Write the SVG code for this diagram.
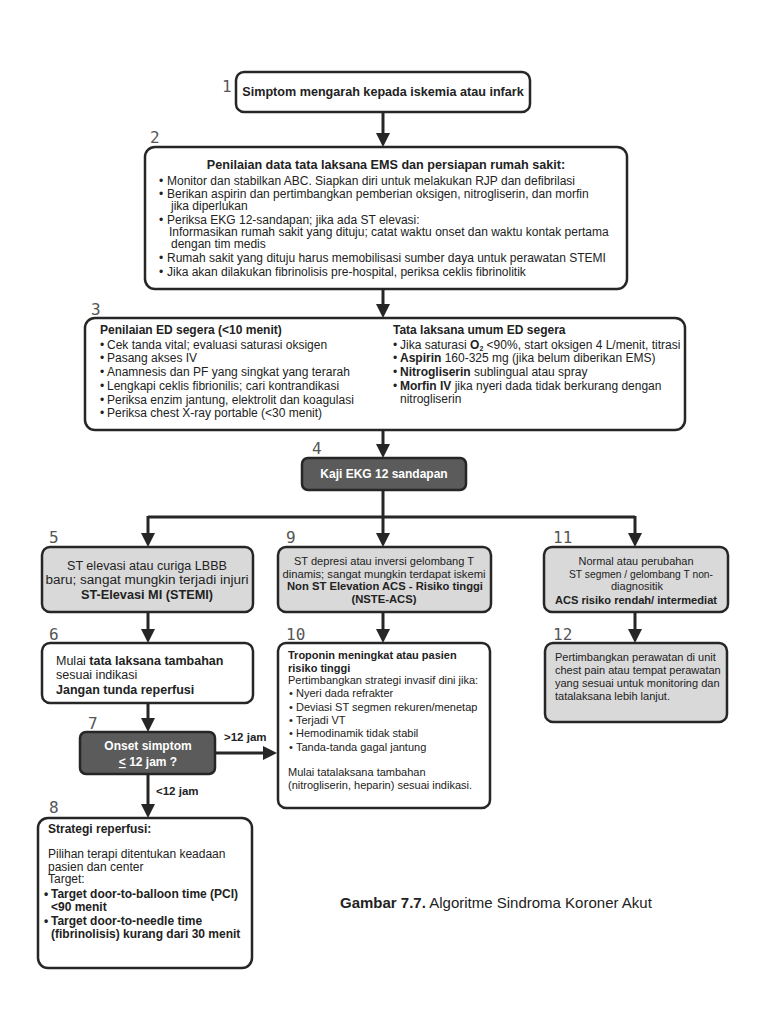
<svg xmlns="http://www.w3.org/2000/svg" width="768" height="1024" viewBox="0 0 768 1024">
<defs>
<style>
.box{fill:#fff;stroke:#262626;stroke-width:2.5}
.gray{fill:#d9d9d9;stroke:#262626;stroke-width:2.5}
.dark{fill:#5b5b5b;stroke:#262626;stroke-width:2.5}
.conn{stroke:#262626;stroke-width:3;fill:none}
.num{font-family:"DejaVu Sans Mono","Liberation Mono",monospace;font-size:16px;fill:#555;font-weight:300}
text{font-family:"Liberation Sans",Arial,sans-serif;fill:#222}
.t12{font-size:12px}
.t11{font-size:11px}
.b{font-weight:bold}
.w{fill:#fff;font-weight:bold}
.c{text-anchor:middle}
</style>
<marker id="ah" markerUnits="userSpaceOnUse" markerWidth="16" markerHeight="16" refX="4" refY="7" orient="auto">
<path d="M0,0 L14,7 L0,14 z" fill="#262626"/>
</marker>
</defs>
<rect width="768" height="1024" fill="#fff"/>

<g id="connectors">
<path class="conn" d="M383,112 V137" marker-end="url(#ah)"/>
<path class="conn" d="M383,289 V308" marker-end="url(#ah)"/>
<path class="conn" d="M383,318 V430"/>
<path class="conn" d="M383,430 V448" marker-end="url(#ah)"/>
<path class="conn" d="M383,490 V537" marker-end="url(#ah)"/>
<path class="conn" d="M148,517 H635"/>
<path class="conn" d="M148,516 V537" marker-end="url(#ah)"/>
<path class="conn" d="M635,516 V537" marker-end="url(#ah)"/>
<path class="conn" d="M148,612 V633" marker-end="url(#ah)"/>
<path class="conn" d="M383,612 V633" marker-end="url(#ah)"/>
<path class="conn" d="M635,612 V633" marker-end="url(#ah)"/>
<path class="conn" d="M148,703 V722" marker-end="url(#ah)"/>
<path class="conn" d="M215,753 H267" marker-end="url(#ah)"/>
<path class="conn" d="M148,774 V808" marker-end="url(#ah)"/>
<text class="b" x="224" y="741" font-size="11.5">&gt;12 jam</text>
<text class="b" x="156" y="795" font-size="11.5">&lt;12 jam</text>
</g>

<g id="n1">
<text class="num" x="222" y="92">1</text>
<rect class="box" x="236" y="72" width="294" height="40" rx="8"/>
<text class="b c" x="383" y="96" font-size="12.6">Simptom mengarah kepada iskemia atau infark</text>
</g>

<g id="n2">
<text class="num" x="150" y="143">2</text>
<rect class="box" x="145" y="147" width="482" height="142" rx="10"/>
<text class="b c" x="386" y="169" font-size="12.6">Penilaian data tata laksana EMS dan persiapan rumah sakit:</text>
<text class="t12"><tspan x="159" y="185">•</tspan><tspan x="167" y="185">Monitor dan stabilkan ABC. Siapkan diri untuk melakukan RJP dan defibrilasi</tspan></text>
<text class="t12"><tspan x="159" y="198">•</tspan><tspan x="167" y="198">Berikan aspirin dan pertimbangkan pemberian oksigen, nitrogliserin, dan morfin</tspan><tspan x="171" y="210">jika diperlukan</tspan></text>
<text class="t12"><tspan x="159" y="224">•</tspan><tspan x="167" y="224">Periksa EKG 12-sandapan; jika ada ST elevasi:</tspan><tspan x="169" y="236">Informasikan rumah sakit yang dituju; catat waktu onset dan waktu kontak pertama</tspan><tspan x="171" y="248">dengan tim medis</tspan></text>
<text class="t12"><tspan x="159" y="262">•</tspan><tspan x="167" y="262">Rumah sakit yang dituju harus memobilisasi sumber daya untuk perawatan STEMI</tspan></text>
<text class="t12"><tspan x="159" y="276">•</tspan><tspan x="167" y="276">Jika akan dilakukan fibrinolisis pre-hospital, periksa ceklis fibrinolitik</tspan></text>
</g>

<g id="n3">
<text class="num" x="91" y="315">3</text>
<rect class="box" x="85" y="318" width="600" height="112" rx="10"/>
<text class="t12 b" x="100" y="334">Penilaian ED segera (&lt;10 menit)</text>
<text class="t12"><tspan x="100" y="349">•</tspan><tspan x="107" y="349">Cek tanda vital; evaluasi saturasi oksigen</tspan></text>
<text class="t12"><tspan x="100" y="362">•</tspan><tspan x="107" y="362">Pasang akses IV</tspan></text>
<text class="t12"><tspan x="100" y="376">•</tspan><tspan x="107" y="376">Anamnesis dan PF yang singkat yang terarah</tspan></text>
<text class="t12"><tspan x="100" y="390">•</tspan><tspan x="107" y="390">Lengkapi ceklis fibrionilis; cari kontrandikasi</tspan></text>
<text class="t12"><tspan x="100" y="404">•</tspan><tspan x="107" y="404">Periksa enzim jantung, elektrolit dan koagulasi</tspan></text>
<text class="t12"><tspan x="100" y="417">•</tspan><tspan x="107" y="417">Periksa chest X-ray portable (&lt;30 menit)</tspan></text>
<text class="t12 b" x="393" y="334">Tata laksana umum ED segera</text>
<text class="t12"><tspan x="393" y="349">•</tspan><tspan x="400" y="349">Jika saturasi </tspan><tspan class="b">O</tspan><tspan font-size="7" class="b" dy="2">2</tspan><tspan dy="-2"> &lt;90%, start oksigen 4 L/menit, titrasi</tspan></text>
<text class="t12"><tspan x="393" y="362">•</tspan><tspan x="400" y="362" class="b">Aspirin</tspan><tspan> 160-325 mg (jika belum diberikan EMS)</tspan></text>
<text class="t12"><tspan x="393" y="376">•</tspan><tspan x="400" y="376" class="b">Nitrogliserin</tspan><tspan> sublingual atau spray</tspan></text>
<text class="t12"><tspan x="393" y="390">•</tspan><tspan x="400" y="390" class="b">Morfin IV</tspan><tspan> jika nyeri dada tidak berkurang dengan</tspan><tspan x="400" y="403">nitrogliserin</tspan></text>
</g>

<g id="n4">
<text class="num" x="312" y="454">4</text>
<rect class="dark" x="302" y="458" width="164" height="32" rx="6"/>
<text class="w c" x="384" y="478" font-size="12">Kaji EKG 12 sandapan</text>
</g>

<g id="n5">
<text class="num" x="49" y="543">5</text>
<rect class="gray" x="42" y="547" width="211" height="65" rx="8"/>
<text class="c" x="147" y="570" font-size="12.5" textLength="160" lengthAdjust="spacingAndGlyphs">ST elevasi atau curiga LBBB</text>
<text class="c" x="147" y="584" font-size="12.5" textLength="203" lengthAdjust="spacingAndGlyphs">baru; sangat mungkin terjadi injuri</text>
<text class="c b" x="147" y="599" font-size="12.5" textLength="132" lengthAdjust="spacingAndGlyphs">ST-Elevasi MI (STEMI)</text>
</g>

<g id="n9">
<text class="num" x="286" y="543">9</text>
<rect class="gray" x="278" y="547" width="213" height="65" rx="8"/>
<text class="c" x="384" y="565" font-size="11.5" textLength="180" lengthAdjust="spacingAndGlyphs">ST depresi atau inversi gelombang T</text>
<text class="c" x="384" y="577.5" font-size="11.5" textLength="203" lengthAdjust="spacingAndGlyphs">dinamis; sangat mungkin terdapat iskemi</text>
<text class="c b" x="385" y="590" font-size="11.5" textLength="196" lengthAdjust="spacingAndGlyphs">Non ST Elevation ACS - Risiko tinggi</text>
<text class="c b" x="384" y="603" font-size="11.5" textLength="65" lengthAdjust="spacingAndGlyphs">(NSTE-ACS)</text>
</g>

<g id="n11">
<text class="num" x="553" y="543">11</text>
<rect class="gray" x="544" y="547" width="184" height="65" rx="8"/>
<text class="c" x="636" y="565" font-size="11.5" textLength="115" lengthAdjust="spacingAndGlyphs">Normal atau perubahan</text>
<text class="c" x="641" y="577.5" font-size="11.5" textLength="144" lengthAdjust="spacingAndGlyphs">ST segmen / gelombang T non-</text>
<text class="c" x="637" y="590" font-size="11.5" textLength="52" lengthAdjust="spacingAndGlyphs">diagnositik</text>
<text class="c b" x="636" y="603.5" font-size="11.5" textLength="162" lengthAdjust="spacingAndGlyphs">ACS risiko rendah/ intermediat</text>
</g>

<g id="n6">
<text class="num" x="49" y="640">6</text>
<rect class="box" x="42" y="643" width="211" height="60" rx="8"/>
<text x="56" y="665" font-size="12.5">Mulai <tspan class="b">tata laksana tambahan</tspan></text>
<text x="56" y="679" font-size="12.5">sesuai indikasi</text>
<text class="b" x="56" y="694" font-size="12.5">Jangan tunda reperfusi</text>
</g>

<g id="n7">
<text class="num" x="88" y="729">7</text>
<rect class="dark" x="80" y="732" width="135" height="42" rx="6"/>
<text class="w c" x="148" y="750" font-size="12">Onset simptom</text>
<text class="w c" x="148" y="766" font-size="12"><tspan text-decoration="underline">&lt;</tspan> 12 jam ?</text>
</g>

<g id="n8">
<text class="num" x="49" y="813">8</text>
<rect class="box" x="38" y="818" width="214" height="150" rx="10"/>
<text class="t12 b" x="48" y="833">Strategi reperfusi:</text>
<text class="t12" x="48" y="858">Pilihan terapi ditentukan keadaan</text>
<text class="t12" x="48" y="871">pasien dan center</text>
<text class="t12" x="48" y="883">Target:</text>
<text class="t12 b"><tspan x="44" y="898">•</tspan><tspan x="51" y="898">Target door-to-balloon time (PCI)</tspan><tspan x="51" y="911">&lt;90 menit</tspan></text>
<text class="t12 b"><tspan x="44" y="925">•</tspan><tspan x="51" y="925">Target door-to-needle time</tspan><tspan x="51" y="938">(fibrinolisis) kurang dari 30 menit</tspan></text>
</g>

<g id="n10">
<text class="num" x="286" y="640">10</text>
<rect class="box" x="278" y="643" width="212" height="165" rx="8"/>
<text class="t11 b" x="288" y="659">Troponin meningkat atau pasien</text>
<text class="t11 b" x="288" y="672">risiko tinggi</text>
<text class="t11" x="288" y="684">Pertimbangkan strategi invasif dini jika:</text>
<text class="t11"><tspan x="289" y="697">•</tspan><tspan x="296" y="697">Nyeri dada refrakter</tspan></text>
<text class="t11"><tspan x="289" y="711">•</tspan><tspan x="296" y="711">Deviasi ST segmen rekuren/menetap</tspan></text>
<text class="t11"><tspan x="289" y="724">•</tspan><tspan x="296" y="724">Terjadi VT</tspan></text>
<text class="t11"><tspan x="289" y="737">•</tspan><tspan x="296" y="737">Hemodinamik tidak stabil</tspan></text>
<text class="t11"><tspan x="289" y="751">•</tspan><tspan x="296" y="751">Tanda-tanda gagal jantung</tspan></text>
<text class="t11" x="288" y="776">Mulai tatalaksana tambahan</text>
<text class="t11" x="288" y="789">(nitrogliserin, heparin) sesuai indikasi.</text>
</g>

<g id="n12">
<text class="num" x="553" y="640">12</text>
<rect class="gray" x="545" y="643" width="182" height="79" rx="8"/>
<text class="t11" x="555" y="661">Pertimbangkan perawatan di unit</text>
<text class="t11" x="555" y="674">chest pain atau tempat perawatan</text>
<text class="t11" x="555" y="687">yang sesuai untuk monitoring dan</text>
<text class="t11" x="555" y="700">tatalaksana lebih lanjut.</text>
</g>

<g id="caption">
<text x="340" y="908" font-size="15"><tspan class="b">Gambar 7.7.</tspan> Algoritme Sindroma Koroner Akut</text>
</g>
</svg>
